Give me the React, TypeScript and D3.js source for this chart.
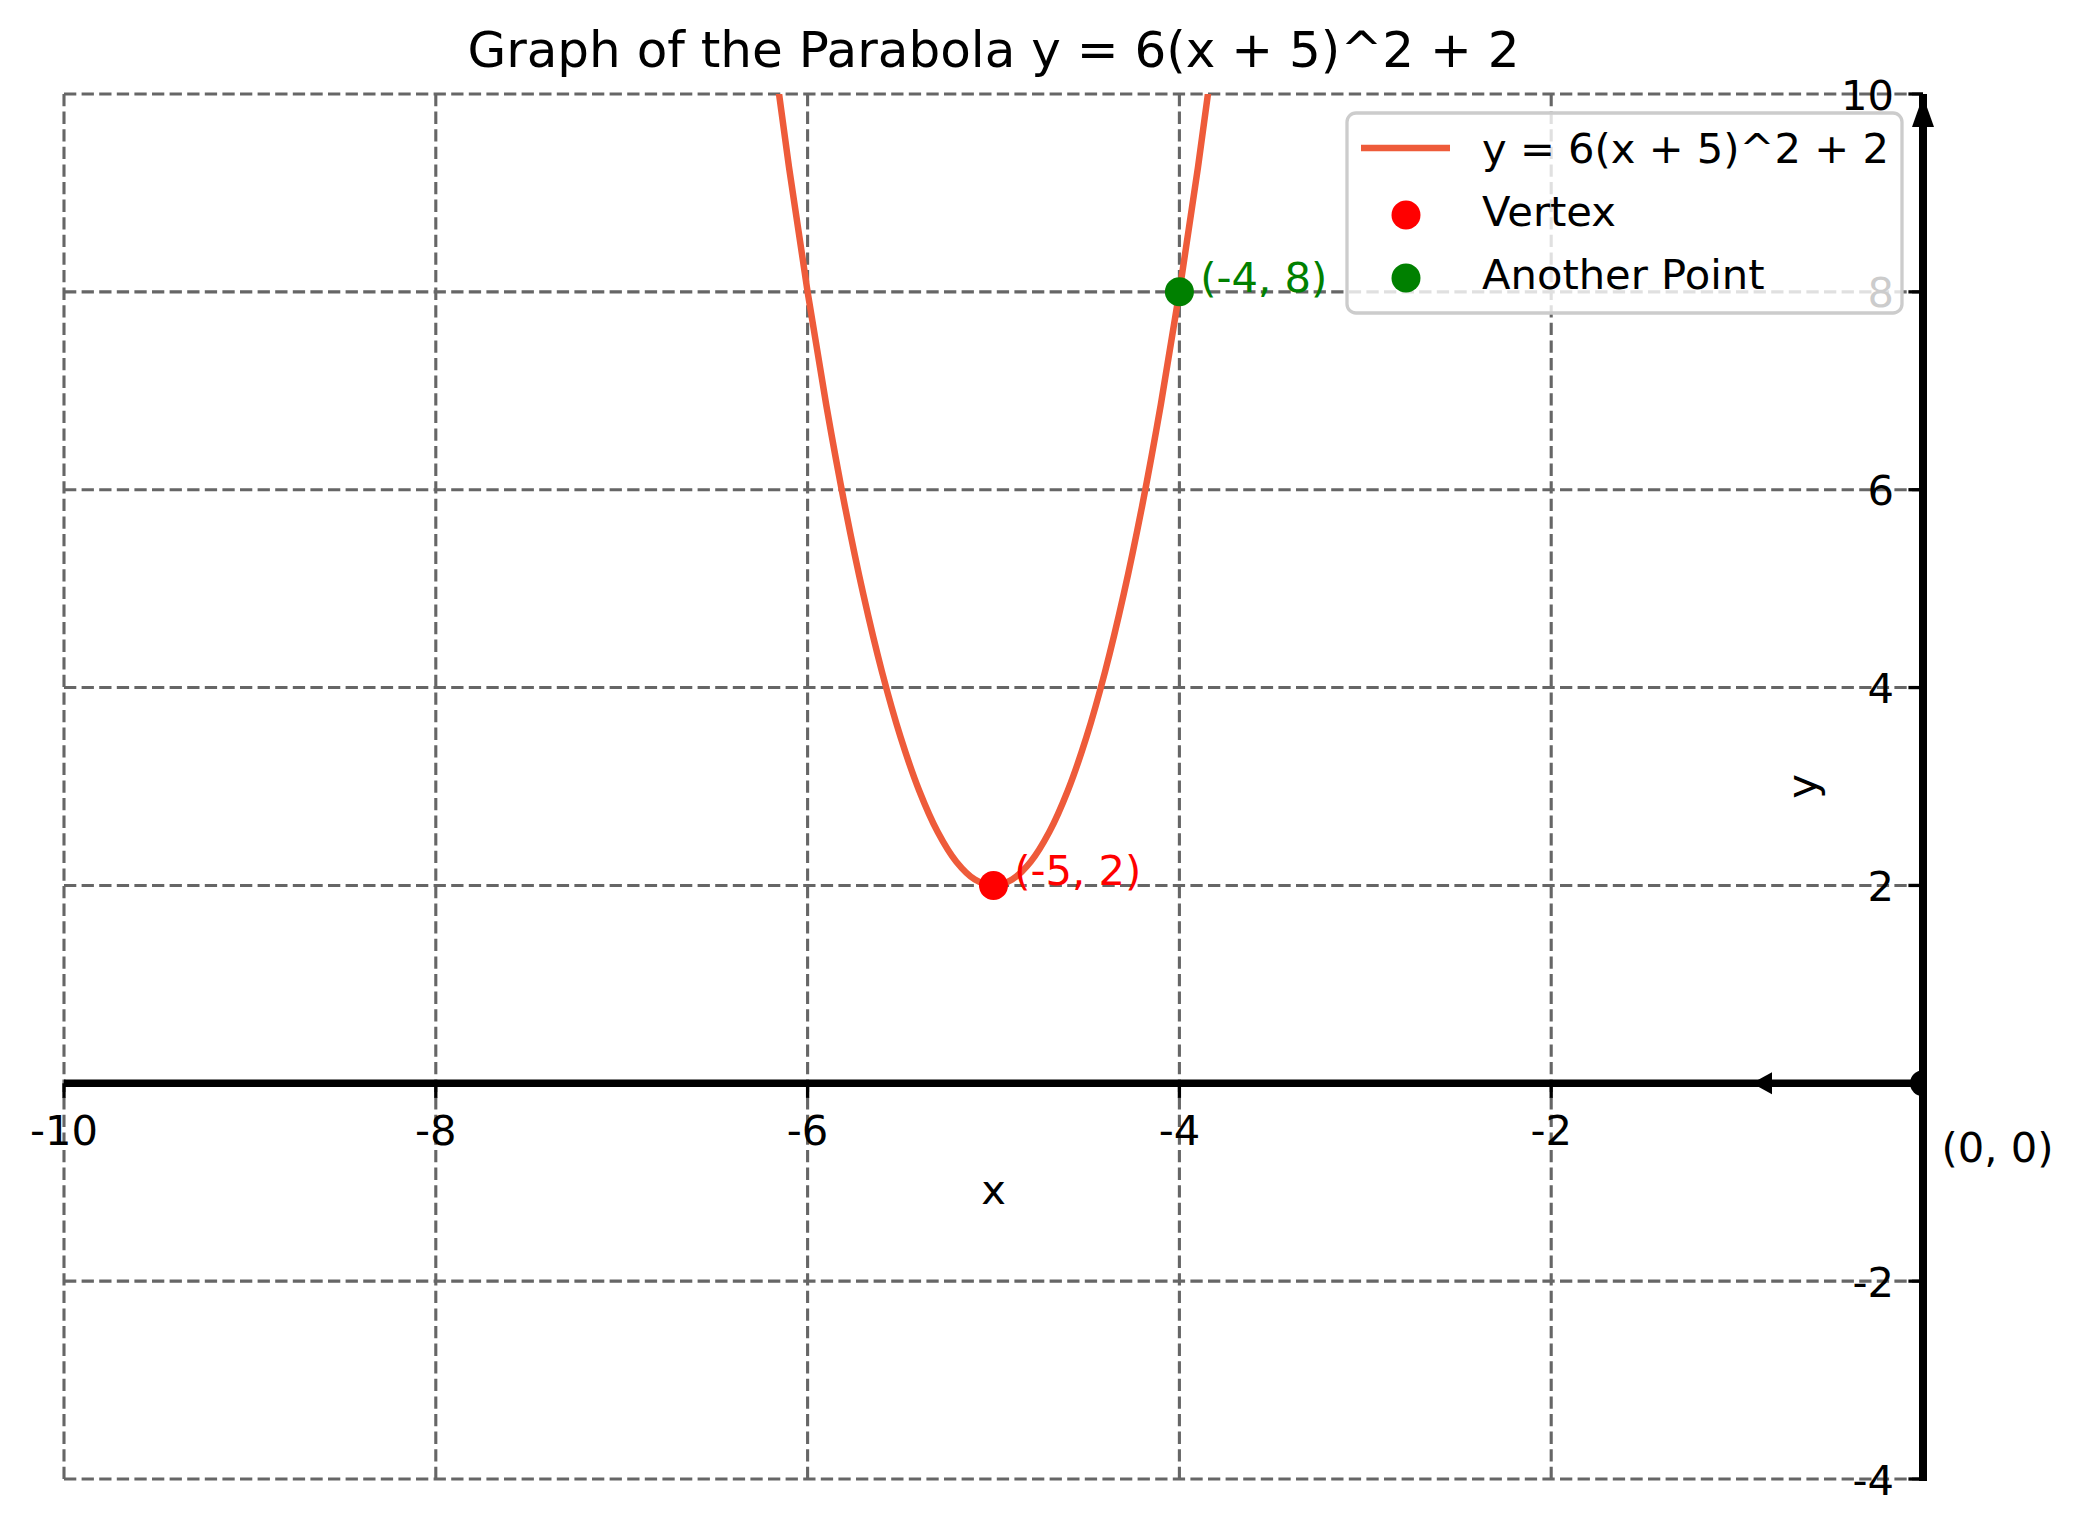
import React from "react";
import * as d3 from "d3";

// ---- data ----
const titleText = "Graph of the Parabola y = 6(x + 5)^2 + 2";
const xDomain = [-10, 0];
const yDomain = [-4, 10];
const xTickValues = [-10, -8, -6, -4, -2];
const xTickLabels = ["-10", "-8", "-6", "-4", "-2"];
const yTickValues = [10, 8, 6, 4, 2, -2, -4];
const yTickLabels = ["10", "8", "6", "4", "2", "-2", "-4"];
const gridXValues = [-10, -8, -6, -4, -2, 0];
const gridYValues = [10, 8, 6, 4, 2, 0, -2, -4];
const curveX = [-6.3, -6.2, -6.1, -6.0, -5.9, -5.8, -5.7, -5.6, -5.5, -5.4, -5.3, -5.2, -5.1, -5.0,
  -4.9, -4.8, -4.7, -4.6, -4.5, -4.4, -4.3, -4.2, -4.1, -4.0, -3.9, -3.8, -3.7];
const curveY = [12.14, 10.64, 9.26, 8, 6.86, 5.84, 4.94, 4.16, 3.5, 2.96, 2.54, 2.24, 2.06, 2,
  2.06, 2.24, 2.54, 2.96, 3.5, 4.16, 4.94, 5.84, 6.86, 8, 9.26, 10.64, 12.14];
const pointNames = ["Vertex", "Another Point"];
const pointX = [-5, -4];
const pointY = [2, 8];
const pointLabels = ["(-5, 2)", "(-4, 8)"];
const pointColors = ["#ff0000", "#008000"];
const curveName = "y = 6(x + 5)^2 + 2";
const originLabel = "(0, 0)";

const W = 2084;
const H = 1534;
const FONT = "DejaVu Sans, sans-serif";
const FS = 41.67;
const curveColor = "#ee5b3a";
const gridColor = "#666666";

export default function App() {
  const x = d3.scaleLinear().domain(xDomain).range([64, 1923]);
  const y = d3.scaleLinear().domain(yDomain).range([1479, 94]);
  const [x0, x1] = x.range();
  const [y0, y1] = [y(yDomain[1]), y(yDomain[0])];
  const line = d3
    .line<number>()
    .x((_, i) => x(curveX[i]))
    .y((_, i) => y(curveY[i]))
    .curve(d3.curveCatmullRom.alpha(0.5));
  const curvePath = line(curveX) || "";
  const ox = x(0);
  const oy = y(0);

  const legendX = 1347;
  const legendY = 113;
  const legendW = 555;
  const legendH = 200;

  return (
    <svg
      width={W}
      height={H}
      viewBox={`0 0 ${W} ${H}`}
      style={{ position: "absolute", left: 0, top: 0, display: "block", background: "#fff" }}
      fontFamily={FONT}
    >
      <defs>
        <clipPath id="plotClip">
          <rect x={x0} y={y0} width={x1 - x0} height={y1 - y0} />
        </clipPath>
      </defs>
      <rect x={0} y={0} width={W} height={H} fill="#fff" />

      {/* title */}
      <text x={(x0 + x1) / 2} y={67} textAnchor="middle" fontSize={50} fill="#000">
        {titleText}
      </text>

      {/* grid */}
      <g stroke={gridColor} strokeWidth={3.1} strokeDasharray="12.3 5.3" fill="none">
        {gridXValues.map((v) => (
          <line key={"gx" + v} x1={x(v)} x2={x(v)} y1={y0} y2={y1} />
        ))}
        {gridYValues.map((v) => (
          <line key={"gy" + v} x1={x0} x2={x1} y1={y(v)} y2={y(v)} />
        ))}
      </g>

      {/* curve */}
      <g clipPath="url(#plotClip)">
        <path d={curvePath} fill="none" stroke={curveColor} strokeWidth={6.5} strokeLinejoin="round" />
        <circle cx={ox} cy={oy} r={13} fill="#000" />
      </g>

      {/* points */}
      {pointX.map((px, i) => (
        <g key={"p" + i}>
          <circle cx={x(px)} cy={y(pointY[i])} r={14.5} fill={pointColors[i]} />
          <text x={x(px) + 20.8} y={y(pointY[i])} fontSize={FS} fill={pointColors[i]}>
            {pointLabels[i]}
          </text>
        </g>
      ))}

      {/* spines */}
      <line x1={x0} x2={ox + 4} y1={oy} y2={oy} stroke="#000" strokeWidth={7.5} />
      <line x1={ox} x2={ox} y1={y0} y2={y1 + 2} stroke="#000" strokeWidth={8} />

      {/* arrows */}
      <path d={`M${ox},${y(10) + 2} L${ox - 11},${y(10) + 33} L${ox + 11},${y(10) + 33} Z`} fill="#000" />
      <path d={`M${x(-0.92)},${oy} L${x(-0.92) + 20},${oy - 11} L${x(-0.92) + 20},${oy + 11} Z`} fill="#000" />

      {/* x ticks */}
      {xTickValues.map((v, i) => (
        <g key={"xt" + v}>
          <line x1={x(v)} x2={x(v)} y1={oy} y2={oy + 14.6} stroke="#000" strokeWidth={3.3} />
          <text x={x(v)} y={1145} textAnchor="middle" fontSize={FS} fill="#000">
            {xTickLabels[i]}
          </text>
        </g>
      ))}

      {/* y ticks */}
      {yTickValues.map((v, i) => (
        <g key={"yt" + v}>
          <line x1={ox} x2={ox - 14.6} y1={y(v)} y2={y(v)} stroke="#000" strokeWidth={3.3} />
          <text x={1894} y={y(v) + 15.5} textAnchor="end" fontSize={FS} fill="#000">
            {yTickLabels[i]}
          </text>
        </g>
      ))}

      {/* axis labels */}
      <text x={(x0 + x1) / 2} y={1204} textAnchor="middle" fontSize={FS} fill="#000">
        x
      </text>
      <text
        transform={`translate(1816, ${(y0 + y1) / 2}) rotate(-90)`}
        textAnchor="middle"
        fontSize={FS}
        fill="#000"
      >
        y
      </text>

      {/* origin label */}
      <text x={x(0.1)} y={y(-0.8)} fontSize={FS} fill="#000">
        {originLabel}
      </text>

      {/* legend */}
      <g>
        <rect
          x={legendX}
          y={legendY}
          width={legendW}
          height={legendH}
          rx={9}
          ry={9}
          fill="#fff"
          fillOpacity={0.8}
          stroke="#cccccc"
          strokeWidth={3.3}
        />
        <line x1={1361} x2={1450} y1={148} y2={148} stroke={curveColor} strokeWidth={6.5} />
        <text x={1482} y={163} fontSize={FS} fill="#000">
          {curveName}
        </text>
        {pointNames.map((n, i) => (
          <g key={"lg" + i}>
            <circle cx={1406} cy={215 + i * 63} r={14.5} fill={pointColors[i]} />
            <text x={1482} y={226 + i * 63} fontSize={FS} fill="#000">
              {n}
            </text>
          </g>
        ))}
      </g>
    </svg>
  );
}
